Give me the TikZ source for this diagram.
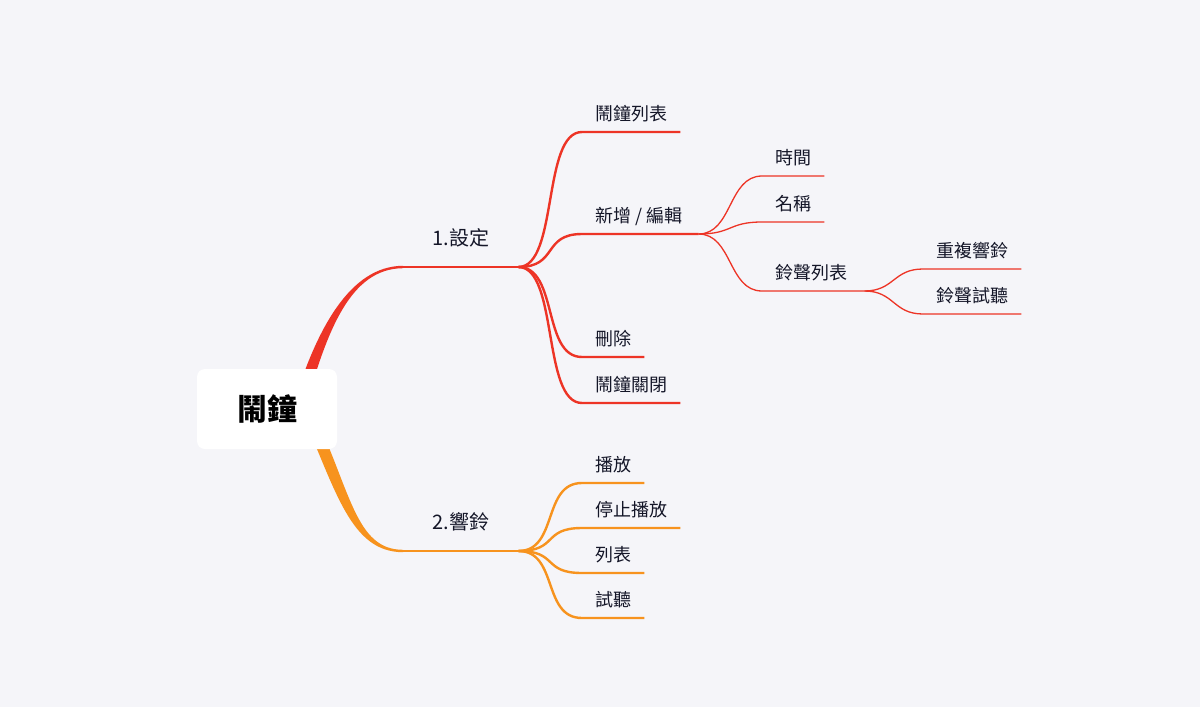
\documentclass[tikz,border=0pt]{standalone}
\usepackage{fontspec}
\setmainfont{Noto Sans CJK TC}
\usetikzlibrary{backgrounds}

\definecolor{paper}{RGB}{245,245,249}
\definecolor{setred}{RGB}{237,52,38}
\definecolor{ringorange}{RGB}{247,147,30}
\definecolor{inktext}{RGB}{20,22,40}

\tikzset{
  root/.style={fill=white, rounded corners=8pt, minimum width=140pt, minimum height=80pt,
    font=\bfseries\fontsize{30}{36}\selectfont, text=black},
  branch/.style={anchor=south west, minimum width=115pt, inner xsep=0pt, inner ysep=18pt,
    text height=16pt, text depth=3.5pt, font=\fontsize{20}{24}\selectfont, text=inktext},
  leaf/.style={anchor=south west, inner xsep=13pt, inner ysep=8pt,
    text height=15pt, text depth=3pt, font=\fontsize{18}{22}\selectfont, text=inktext},
  firstlink/.style={line width=2.4pt},
  secondlink/.style={line width=1.3pt},
}

\begin{document}
\begin{tikzpicture}[x=1pt, y=-1pt]
    % root and main branches
    \node[root] at (267,409) (clock) {鬧鐘};
    \node[branch] at (403,267) (set) {1.設定};
    \node[branch] at (403,551) (ring) {2.響鈴};
    % 1.設定
    \node[leaf] at (582,132) (alarmlist) {鬧鐘列表};
    \node[leaf] at (582,234) (edit) {新增 / 編輯};
    \node[leaf] at (582,357) (delete) {刪除};
    \node[leaf] at (582,403) (close) {鬧鐘關閉};
    \node[leaf] at (762,176) (time) {時間};
    \node[leaf] at (762,222) (title) {名稱};
    \node[leaf] at (762,291) (tonelist) {鈴聲列表};
    \node[leaf] at (923,269) (repeat) {重複響鈴};
    \node[leaf] at (923,314) (preview) {鈴聲試聽};
    % 2.響鈴
    \node[leaf] at (582,483) (play) {播放};
    \node[leaf] at (582,528) (stop) {停止播放};
    \node[leaf] at (582,573) (list) {列表};
    \node[leaf] at (582,618) (listen) {試聽};

    \begin{scope}[on background layer]
    \fill[paper] (0,0) rectangle (1200,707);
    \fill[setred] ([yshift=1.2pt]set.south west) .. controls (350,266) and (316,329) .. ([xshift=25pt]clock.center)
      -- ([xshift=38pt]clock.center) .. controls (327,331) and (350,268.5) .. ([yshift=-1.2pt]set.south west) -- cycle;
    \fill[ringorange] ([yshift=-1.2pt]ring.south west) .. controls (350,552) and (336,490) .. ([xshift=33pt]clock.center)
      -- ([xshift=45pt]clock.center) .. controls (351,490) and (355,549.8) .. ([yshift=1.2pt]ring.south west) -- cycle;
    \end{scope}

    \draw[setred, line width=2.5pt] (set.south west) -- (set.south east);
    \draw[ringorange, line width=2.5pt] (ring.south west) -- (ring.south east);

    \draw[setred, firstlink] (set.south east) .. controls +(40,0) and +(-40,0) .. (alarmlist.south west) -- (alarmlist.south east);
    \draw[setred, firstlink] (set.south east) .. controls +(40,0) and +(-40,0) .. (edit.south west) -- ([xshift=3pt]edit.south east);
    \draw[setred, firstlink] (set.south east) .. controls +(40,0) and +(-40,0) .. (delete.south west) -- (delete.south east);
    \draw[setred, firstlink] (set.south east) .. controls +(40,0) and +(-40,0) .. (close.south west) -- (close.south east);

    \draw[setred, secondlink] ([xshift=3pt]edit.south east) .. controls +(34,0) and +(-34,0) .. (time.south west) -- (time.south east);
    \draw[setred, secondlink] ([xshift=3pt]edit.south east) .. controls +(34,0) and +(-34,0) .. (title.south west) -- (title.south east);
    \draw[setred, secondlink] ([xshift=3pt]edit.south east) .. controls +(34,0) and +(-34,0) .. (tonelist.south west) -- ([xshift=4pt]tonelist.south east);
    \draw[setred, secondlink] ([xshift=4pt]tonelist.south east) .. controls +(30,0) and +(-30,0) .. (repeat.south west) -- (repeat.south east);
    \draw[setred, secondlink] ([xshift=4pt]tonelist.south east) .. controls +(30,0) and +(-30,0) .. (preview.south west) -- (preview.south east);

    \draw[ringorange, firstlink] (ring.south east) .. controls +(40,0) and +(-40,0) .. (play.south west) -- (play.south east);
    \draw[ringorange, firstlink] (ring.south east) .. controls +(40,0) and +(-40,0) .. (stop.south west) -- (stop.south east);
    \draw[ringorange, firstlink] (ring.south east) .. controls +(40,0) and +(-40,0) .. (list.south west) -- (list.south east);
    \draw[ringorange, firstlink] (ring.south east) .. controls +(40,0) and +(-40,0) .. (listen.south west) -- (listen.south east);
\end{tikzpicture}
\end{document}
